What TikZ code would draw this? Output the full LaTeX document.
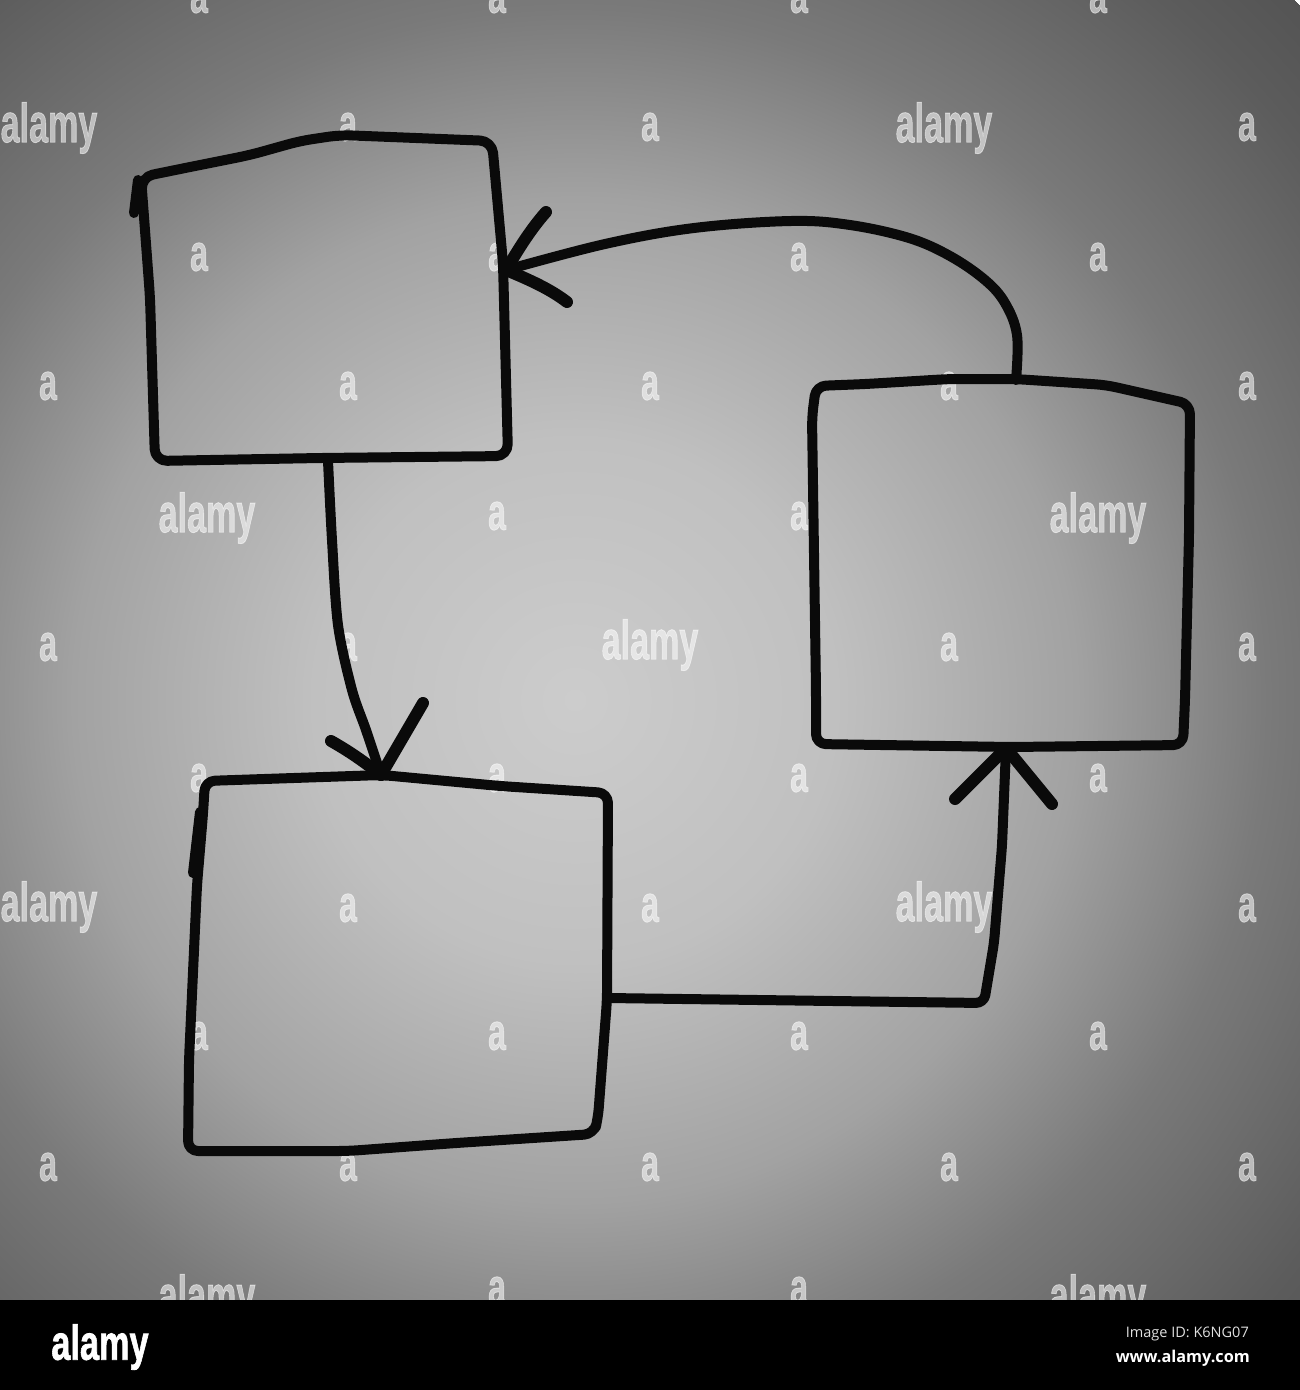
\documentclass[tikz,border=0pt]{standalone}
\usepackage{fontspec}
\usepackage{graphicx}
\newfontface\wmfont{Liberation Sans Bold}[FakeBold=1.6]
\newfontfamily\logofont{Liberation Sans}
\newfontfamily\barfont{Open Sans}
\definecolor{g0}{RGB}{204,204,204}
\definecolor{g1}{RGB}{192,192,192}
\definecolor{g2}{RGB}{162,162,162}
\definecolor{g3}{RGB}{122,122,122}
\definecolor{g4}{RGB}{92,92,92}
\definecolor{g5}{RGB}{84,84,84}
\definecolor{ink}{RGB}{10,10,10}
\pgfdeclareradialshading{vignpx}{\pgfpointorigin}{color(0bp)=(g0); color(260bp)=(g1); color(500bp)=(g2); color(690bp)=(g3); color(910bp)=(g4); color(1000bp)=(g5)}
\tikzset{
  pen/.style={draw=ink, line width=10pt, line cap=round, line join=round},
  barb/.style={pen, line width=12pt},
  wm/.style={text=white, text opacity=0.55, inner sep=0pt, xscale=0.62,
    font=\wmfont\fontsize{52}{52}\selectfont},
  wmbig/.style={wm, font=\wmfont\fontsize{55}{55}\selectfont}
}
\begin{document}
\begin{tikzpicture}[x=1pt,y=-1pt]
\useasboundingbox (0,0) rectangle (1300,1390);
\begin{scope}
\clip (0,0) rectangle (1300,1300);
\node[inner sep=0pt, outer sep=0pt] (bg) at (575,700) {\pgfuseshading{vignpx}};

% watermarks
\foreach \x/\y [count=\i] in {199/-1,497/-1,799/-1,1098/-1,
  199/257,497/257,799/257,1098/257,
  497/516,799/516,
  199/778,497/778,799/778,1098/778,
  199/1036,497/1036,799/1036,1098/1036,
  497/1291,799/1291,
  348/127,650/127,1247/127,
  48/386,348/386,650/386,949/386,1247/386,
  48/647,348/647,949/647,1247/647,
  348/908,650/908,1247/908,
  48/1167,348/1167,650/1167,949/1167,1247/1167}
  \node[wm] (wa\i) at (\x,\y) {a};
\foreach \x/\y [count=\i] in {49/128,944/128,207/518,1098/518,650/645,49/907,944/907,207/1300,1098/1300}
  \node[wmbig] (wb\i) at (\x,\y) {alamy};
\end{scope}

% anchor points of the boxes
\coordinate (b1s) at (328,461);
\coordinate (b1e) at (506,270);
\coordinate (b2n) at (381,775);
\coordinate (b2e) at (608,998);
\coordinate (b3n) at (1016,380);
\coordinate (b3s) at (1006,748);

% box 1 (top left)
\draw[pen, rounded corners=12pt] (141,177) -- (195,166) -- (250,155) -- (300,141) -- (340,135) -- (492,141) -- (503,263) -- (508,456) -- (320,458) -- (155,461) -- (150,297) -- cycle;
\draw[pen] (134,213) -- (138,180);

% box 2 (bottom left)
\draw[pen, rounded corners=10pt] (205,781) -- (382,775) -- (500,786) -- (608,793) -- (607,1000) -- (598,1118) -- (594,1134) -- (456,1143) -- (348,1151) -- (188,1151) -- (189,1060) -- (197,885) -- (203,814) -- cycle;
\draw[pen] (193,873) -- (200,812);

% box 3 (right)
\draw[pen, rounded corners=10pt] (816,386) -- (866,384) -- (949,379) -- (1015,379) -- (1106,385) -- (1190,404) -- (1189,536) -- (1185,700) -- (1183,745) -- (1011,747) -- (816,744) -- (816,690) -- (812,417) -- cycle;

% connector box 3 -> box 1
\draw[pen] plot[smooth, tension=0.6] coordinates {(b3n) (1017,335) (1005,303) (985,280) (950,256) (909,238) (850,225) (791,221) (694,228) (605,244) (b1e)};
\draw[barb] (b1e) .. controls (518,250) and (530,230) .. (546,212);
\draw[barb] (b1e) .. controls (530,280) and (550,289) .. (567,302);

% connector box 1 -> box 2
\draw[pen] plot[smooth, tension=0.5] coordinates {(b1s) (332,540) (338,625) (352,690) (366,730) (b2n)};
\draw[barb] (b2n) .. controls (362,760) and (347,750) .. (331,741);
\draw[barb] (b2n) -- (423,703);

% connector box 2 -> box 3
\draw[pen, rounded corners=8pt] (b2e) -- (984,1003) -- (994,943) -- (1002,846) -- (b3s);
\draw[barb] (b3s) -- (955,799);
\draw[barb] (b3s) -- (1052,804);

% bottom bar
\fill[black] (0,1300) rectangle (1300,1390);
\node[text=white, inner sep=0pt, xscale=0.7, font=\wmfont\fontsize{49}{49}\selectfont] (logo) at (100,1347) {alamy};
\node[anchor=base east, inner sep=0pt, text=white!88!black] (imgid) at (1249,1337) {\resizebox{123pt}{!}{\barfont Image ID: K6NG07}};
\node[anchor=base east, inner sep=0pt, text=white] (url) at (1250,1362) {\resizebox{134pt}{!}{\barfont\bfseries www.alamy.com}};
\end{tikzpicture}
\end{document}
